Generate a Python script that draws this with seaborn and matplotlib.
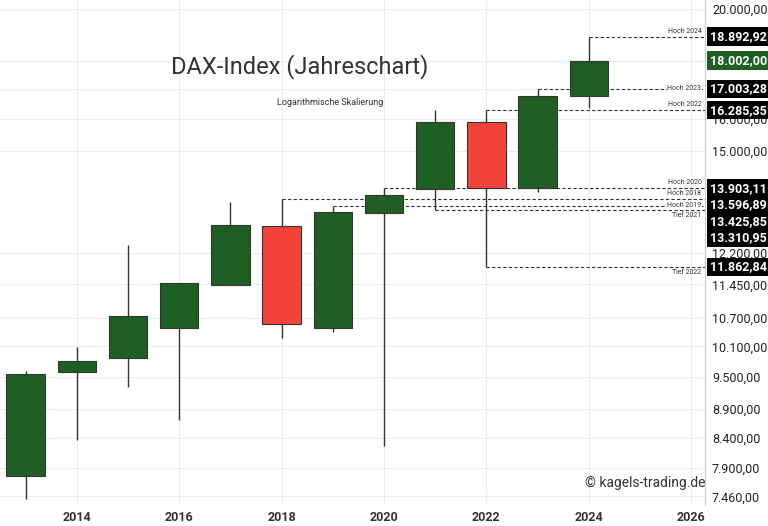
import matplotlib
matplotlib.use("Agg")
import matplotlib.pyplot as plt
import seaborn as sns
import numpy as np
from matplotlib.ticker import FixedLocator, NullLocator

sns.set_style("whitegrid")
plt.rcParams['font.family'] = ['Roboto', 'DejaVu Sans']

years = [2013, 2014, 2015, 2016, 2017, 2018, 2019, 2020, 2021, 2022, 2023, 2024]
opens = [7778, 9598, 9869, 10486, 11426, 12897, 10477, 13233, 13886, 15885, 13925, 16750]
highs = [9620, 10093, 12391, 11481, 13526, 13597, 13426, 13903, 16290, 16285, 17003, 18893]
lows = [7419, 8355, 9314, 8699, 11450, 10279, 10408, 8256, 13311, 11863, 13791, 16345]
closes = [9552, 9806, 10743, 11481, 12918, 10559, 13249, 13719, 15885, 13924, 16752, 18002]

yticks = [7460, 7900, 8400, 8900, 9500, 10100, 10700, 11450, 12200, 15000, 16000, 17000, 18000, 20000]
xticks = [2014, 2016, 2018, 2020, 2022, 2024, 2026]

marks = [("Hoch 2024", 2024, 18892.92, "above"), ("Hoch 2023", 2023, 17003.28, "on"),
         ("Hoch 2022", 2022, 16285.35, "above"), ("Hoch 2020", 2020, 13903.11, "above"),
         ("Hoch 2018", 2018, 13596.89, "above"), ("Hoch 2019", 2019, 13425.85, "on"),
         ("Tief 2021", 2021, 13310.95, "below"), ("Tief 2022", 2022, 11862.84, "below")]

def fmt(v):
    s = f"{v:,.2f}"
    return s.replace(",", "X").replace(".", ",").replace("X", ".")

fig = plt.figure(figsize=(7.68, 5.26), dpi=100)
ax = fig.add_axes([0.0, 0.04, 0.918, 0.96])
ax.set_yscale("log")
ax.set_ylim(7330, 20350)
ax.set_xlim(2012.5, 2026.27)

green, red = "#1f5f23", "#f4433a"
for y, o, h, l, c in zip(years, opens, highs, lows, closes):
    col = green if c >= o else red
    ax.vlines(y, l, h, color="#333333", lw=1, zorder=2)
    ax.bar(y, abs(c - o), bottom=min(o, c), width=0.75, color=col, edgecolor="#333333", lw=0.8, zorder=3)

ax.yaxis.tick_right()
ax.yaxis.set_major_locator(FixedLocator(yticks))
ax.yaxis.set_minor_locator(NullLocator())
ax.set_yticklabels([fmt(v) for v in yticks], fontsize=9, color="#222222")
ax.set_xticks(xticks)
ax.set_xticklabels([str(x) for x in xticks], fontsize=9, fontweight="bold", color="#333333")
ax.tick_params(axis="y", length=0, pad=5)
ax.tick_params(axis="x", length=0, pad=4)
ax.grid(color="#e8eeee", lw=0.8)
for s in ax.spines.values():
    s.set_visible(False)
ax.spines["right"].set_visible(True)
ax.spines["right"].set_color("#cccccc")

for name, yr, v, pos in marks:
    ax.hlines(v, yr, 2026.27, colors="#333333", linestyles=(0, (3, 2)), lw=0.8, zorder=1)
    va = {"above": "bottom", "on": "center", "below": "top"}[pos]
    ax.text(2026.2, v * (1.004 if pos == "above" else (0.996 if pos == "below" else 1.0)), name,
            ha="right", va=va, fontsize=5, color="#333333",
            bbox=dict(facecolor="white", edgecolor="none", pad=0.5) if pos == "on" else None)

box_vals = sorted([m[2] for m in marks] + [closes[-1]], reverse=True)
logs = np.log10(box_vals)
gap = 0.0145
pl = list(logs)
for i in range(1, len(pl)):
    if pl[i - 1] - pl[i] < gap:
        pl[i] = pl[i - 1] - gap
for v, lp in zip(box_vals, pl):
    fc = green if v == closes[-1] else "black"
    ax.text(2026.36, 10 ** lp, fmt(v), ha="left", va="center", fontsize=9, fontweight="bold",
            color="white", bbox=dict(facecolor=fc, edgecolor="none", pad=2), zorder=5, clip_on=False)

fig.text(0.39, 0.86, "DAX-Index (Jahreschart)", fontsize=17, color="#333333", ha="center")
fig.text(0.43, 0.8, "Logarithmische Skalierung", fontsize=6.5, color="#333333", ha="center")
fig.text(0.84, 0.075, "© kagels-trading.de", fontsize=10, color="#333333", ha="center")

fig.savefig("out.png", dpi=100)
